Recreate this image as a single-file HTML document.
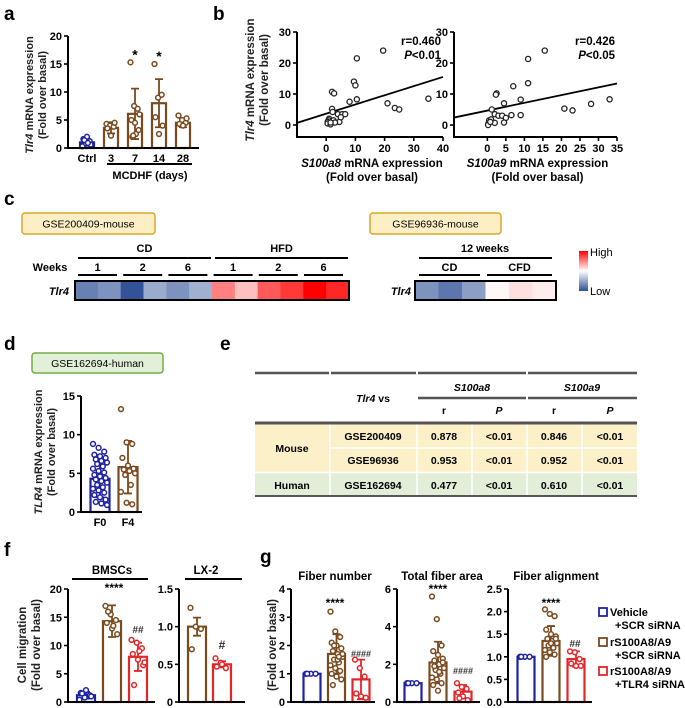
<!DOCTYPE html>
<html><head><meta charset="utf-8">
<style>
html,body{margin:0;padding:0;background:#fff;}
svg{display:block;font-family:"Liberation Sans",Arial,sans-serif;font-weight:bold;}
</style></head>
<body>
<svg id="fig" width="685" height="708" viewBox="0 0 685 708" xmlns="http://www.w3.org/2000/svg">
<g font-size="19" fill="#000">
<text x="4" y="20">a</text>
<text x="213" y="20">b</text>
<text x="4" y="205">c</text>
<text x="4" y="350">d</text>
<text x="220" y="350">e</text>
<text x="4" y="556">f</text>
<text x="260" y="563">g</text>
</g>
<g id="root"></g>
</svg>
<script>
// ---------- DATA ----------
const aCats=['Ctrl','3','7','14','28'];
const aMeans=[1,3.6,6.1,8,4.5];
const aSD=[0.6,1.0,4.5,4.3,0.8];
const aPts=[[0.3,0.8,1.2,1.6,2,0.6,1.4,0.9],[4.3,4,3.8,3.5,2.2,4.5],[15.3,7.5,7,5,4.5,3.2,2,2.5,6,2.2],[15,9,9.5,5.5,2.5,4],[5.8,5,4.5,4.3,4,5.3]];
const aTicks=[0,5,10,15,20];

const b1X=[19.5,10.5,9.5,10,2,2.7,10.5,8,21,23.5,25,35,2,2.2,4,5.5,6.5,1,0.8,0.5,0.5,1.5,4.5,5,2.5,3,1.5];
const b1Y=[24,21.5,14,12.8,10.7,10.2,8.3,7.5,7,5.5,5,8.5,5.2,4.2,3.5,3.5,3.5,2,1.5,1,0.5,0.2,1,2.5,1.5,0.8,0.8];
const b2X=[15.5,11,11,7,2.5,2.3,9,4.5,20.8,23,28,33,1.2,2,3,4,6.5,9,5,2,4.5,0.5,0.3,0.2,1,0.8];
const b2Y=[24,21.3,13.5,12.5,10.2,9.8,8.2,7,5.3,4.7,6.8,8.3,5,3.5,3,3,3.2,3.2,2.3,0.7,0.8,1.5,0.5,0,1.8,1];
const b1Fit=[[-10,0.7],[40,15.5]];
const b2Fit=[[-9,2.4],[35,13.4]];
const b1XTicks=[0,10,20,30,40];
const b2XTicks=[0,5,10,15,20,25,30,35];
const bYTicks=[0,10,20,30];

const c1Vals=[-0.72,-0.62,-0.98,-0.48,-0.62,-0.45,0.5,0.25,0.65,0.78,1,0.85];
const c2Vals=[-0.62,-0.78,-0.55,0.03,0.12,0.07];
const c1Weeks=['1','2','6','1','2','6'];

const dCats=['F0','F4'];
const dMeans=[4.3,5.8];
const dSD=[2.4,3.4];
const dPts=[[8.8,8.3,7.8,7.4,7.2,7,6.8,6.6,6.4,6.2,5.9,5.6,5.3,5.1,4.8,4.6,4.4,4.2,4,3.8,3.5,3.2,3,2.8,2.5,2.2,1.9,1.6,1.3,1.1,0.9],[13.3,9,8.8,7,6,5.6,5.5,5.3,5,4.8,3.5,2.6,1.2,1]];
const dTicks=[0,5,10,15];

const eRows=[['GSE200409','0.878','<0.01','0.846','<0.01'],['GSE96936','0.953','<0.01','0.952','<0.01'],['GSE162694','0.477','<0.01','0.610','<0.01']];

const fBMeans=[1.2,14.3,8];
const fBSD=[0.6,2.8,2.5];
const fBPts=[[0.4,0.8,1.2,1.6,2.1,1,1.5],[17,15.5,14.5,14,13,12,16,13.5],[11,10.5,9.5,8.5,7.5,6.5,3,9,7]];
const fBTicks=[0,5,10,15,20];
const fLMeans=[1.0,0.5];
const fLSD=[0.12,0.04];
const fLPts=[[1.25,1.0,0.97,0.7],[0.58,0.52,0.45,0.47,0.5]];
const fLTicks=[0,0.5,1.0,1.5];
const fLTickLabels=['0','0.5','1.0','1.5'];

const g1Means=[1,1.7,0.8];
const g1SD=[0,0.7,0.7];
const g1Pts=[[1,1,1,1],[3.2,2.5,2.3,2.1,2,1.9,1.8,1.7,1.6,1.5,1.4,1.3,1.2,1.1,1,0.9,0.8,0.6,1.5,1.7,2,1.6],[1.5,1.2,0.9,0.3,0.2,0.15]];
const g1Ticks=[0,1,2,3,4];
const g2Means=[1,2.1,0.55];
const g2SD=[0,1.1,0.35];
const g2Pts=[[1,1,1,1],[5.6,4.4,3,2.7,2.5,2.3,2.2,2,1.8,1.7,1.5,1.3,1.2,1,0.9,0.6,2.1,1.9,1.6],[1,0.8,0.7,0.5,0.3,0.1,0.2]];
const g2Ticks=[0,2,4,6];
const g3Means=[1,1.35,0.95];
const g3SD=[0,0.33,0.17];
const g3Pts=[[1,1,1,1],[2.05,1.95,1.9,1.6,1.5,1.45,1.4,1.35,1.3,1.25,1.2,1.15,1.1,1.05,1.0,1.3,1.4],[1.12,1.1,0.95,0.85,0.8,0.8]];
const g3Ticks=[0,0.5,1,1.5,2,2.5];
const g3TickLabels=['0.0','0.5','1.0','1.5','2.0','2.5'];

// ---------- HELPERS ----------
const NS='http://www.w3.org/2000/svg';
const root=document.getElementById('root');
function mk(tag,attrs,parent){const e=document.createElementNS(NS,tag);for(const k in attrs)e.setAttribute(k,attrs[k]);(parent||root).appendChild(e);return e;}
function txt(s,x,y,opt,parent){const e=mk('text',Object.assign({x:x,y:y,'font-size':11,'text-anchor':'middle'},opt||{}),parent);e.textContent=s;return e;}
function lin(sc){return v=>sc.p0+(v-sc.v0)*(sc.p1-sc.p0)/(sc.v1-sc.v0);}
const BLUE='#1f22a0',BROWN='#7a4a1f',RED='#e3262a';

function barPanel(name,c){
  const g=mk('g',{});
  
  
  const y=lin({v0:0,v1:c.vmax,p0:c.yBot,p1:c.yTop});
  const bx=i=>c.first+i*c.step;
  c.means.forEach((m,i)=>{
    const col=c.colors[i];
    const b=mk('rect',{x:bx(i)-c.w/2,y:y(m),width:c.w,height:c.yBot-y(m),fill:'#fff',stroke:col,'stroke-width':2.2},g);
    
    
    const sd=c.sds[i];
    if(sd>0){
      const eb=mk('path',{d:`M${bx(i)},${y(m-sd)}V${y(m+sd)}M${bx(i)-4},${y(m+sd)}H${bx(i)+4}M${bx(i)-4},${y(m-sd)}H${bx(i)+4}`,stroke:col,'stroke-width':1.8,fill:'none'},g);
      
      
    }
    c.pts[i].forEach((v,j)=>{
      const dx=((j*37)%11-5)/5*(c.w/2-2.5);
      const p=mk('circle',{cx:bx(i)+dx,cy:y(v),r:2.4,fill:'#fff',stroke:col,'stroke-width':1.5},g);
      
      
    });
  });
  const ax=mk('path',{d:`M${c.ax},${c.yTop}V${c.yBot}H${c.xEnd}`,stroke:'#000','stroke-width':2,fill:'none'},g);
  
  
  c.ticks.forEach((t,i)=>{
    mk('line',{x1:c.ax-4,x2:c.ax,y1:y(t),y2:y(t),stroke:'#000','stroke-width':1.6},g);
    const tl=txt(c.tickLabels?c.tickLabels[i]:String(t),c.ax-6,y(t)+4,{'text-anchor':'end','font-size':11},g);
    
    
  });
  if(c.cats){c.cats.forEach((s,i)=>{
    const cl=txt(s,bx(i),c.yBot+14,{'font-size':11},g);
    
    
  });}
  return {g,y,bx};
}

// ---------- PANEL A ----------
const pa=barPanel('panel-a-tlr4-bar-chart',{ax:68,xEnd:199,yTop:36,yBot:148,vmax:20,ticks:aTicks,first:87,step:24,w:14,means:aMeans,sds:aSD,pts:aPts,colors:[BLUE,BROWN,BROWN,BROWN,BROWN],cats:aCats});
[2,3].forEach(i=>{const s=txt('*',pa.bx(i),pa.y(Math.max(...aPts[i]))-3,{'font-size':14});});
mk('line',{x1:107,x2:192,y1:164,y2:164,stroke:'#000','stroke-width':2});
{const t=txt('MCDHF (days)',150,179,{'font-size':11});}
{const t=mk('text',{transform:'translate(33,95) rotate(-90)','text-anchor':'middle','font-size':11,fill:'#222'});t.innerHTML='<tspan font-style="italic">Tlr4</tspan> mRNA expression';
 const t2=txt('(Fold over basal)',0,0,{transform:'translate(46,95) rotate(-90)',fill:'#222'});}

// ---------- PANEL B ----------
function scatter(name,c){
  const g=mk('g',{});
  
  
  const x=lin({v0:c.xmin,v1:c.xmax,p0:c.left,p1:c.right});
  const y=lin({v0:0,v1:30,p0:125,p1:32});
  const fl=mk('line',{x1:x(c.fit[0][0]),y1:y(c.fit[0][1]),x2:x(c.fit[1][0]),y2:y(c.fit[1][1]),stroke:'#000','stroke-width':1.8},g);
  
  
  c.xs.forEach((v,i)=>{
    const p=mk('circle',{cx:x(v),cy:y(c.ys[i]),r:2.6,fill:'#fff',stroke:'#222','stroke-width':1.3},g);
    
    
  });
  const ax=mk('path',{d:`M${c.left},32V137H${c.right}`,stroke:'#000','stroke-width':2,fill:'none'},g);
  
  
  bYTicks.forEach(t=>{mk('line',{x1:c.left-4,x2:c.left,y1:y(t),y2:y(t),stroke:'#000','stroke-width':1.6},g);
    const tl=txt(String(t),c.left-6,y(t)+4,{'text-anchor':'end'},g);});
  c.xticks.forEach(t=>{mk('line',{x1:x(t),x2:x(t),y1:137,y2:141,stroke:'#000','stroke-width':1.6},g);
    const tl=txt(String(t),x(t),152,{},g);});
  const r=txt(c.r,c.right-2,45,{'text-anchor':'end','font-size':11.5},g);
  const p=mk('text',{x:c.right-2,y:59,'text-anchor':'end','font-size':11.5},g);p.innerHTML='<tspan font-style="italic">P</tspan>'+c.p;
  const xt=mk('text',{x:(c.left+c.right)/2+2,y:167,'text-anchor':'middle','font-size':11.5},g);xt.innerHTML='<tspan font-style="italic">'+c.gene+'</tspan> mRNA expression';
  const xt2=txt('(Fold over basal)',(c.left+c.right)/2+2,181,{'font-size':11.5},g);
}
scatter('panel-b-s100a8-scatter',{xmin:-10,xmax:40,left:297,right:443,xs:b1X,ys:b1Y,fit:b1Fit,xticks:b1XTicks,r:'r=0.460',p:'<0.01',gene:'S100a8'});
scatter('panel-b-s100a9-scatter',{xmin:-9,xmax:35,left:454,right:617,xs:b2X,ys:b2Y,fit:b2Fit,xticks:b2XTicks,r:'r=0.426',p:'<0.05',gene:'S100a9'});
{const t=mk('text',{transform:'translate(254,80) rotate(-90)','text-anchor':'middle','font-size':11.5,fill:'#222'});t.innerHTML='<tspan font-style="italic">Tlr4</tspan> mRNA expression';
 const t2=txt('(Fold over basal)',0,0,{transform:'translate(268,80) rotate(-90)','font-size':11.5,fill:'#222'});}

// ---------- PANEL C ----------
function cmap(v){const b=[47,79,150],w=[255,255,255],r=[255,0,0];const t=Math.abs(v),e=v<0?b:r;return 'rgb('+w.map((c,i)=>Math.round(c+(e[i]-c)*t)).join(',')+')';}
function tagBox(name,x,y,w,h,label,fill,stroke){const r=mk('rect',{x:x,y:y,width:w,height:h,rx:3,fill:fill,stroke:stroke,'stroke-width':1.5});
  const t=txt(label,x+w/2,y+h/2+4,{'font-size':10.5,'font-weight':'normal'});}
tagBox('gse200409-mouse-tag',22,213,133,21,'GSE200409-mouse','#fcefc6','#d9a928');
tagBox('gse96936-mouse-tag',370,213,131,21,'GSE96936-mouse','#fcefc6','#d9a928');
function heat(name,vals,x0,x1){const g=mk('g',{});
  const cw=(x1-x0)/vals.length;vals.forEach((v,i)=>{const c=mk('rect',{x:x0+i*cw,y:281,width:cw+0.3,height:19,fill:cmap(v)},g);});
  mk('rect',{x:x0,y:281,width:x1-x0,height:19,fill:'none',stroke:'#000','stroke-width':2},g);}
heat('heatmap-gse200409',c1Vals,75,349);
heat('heatmap-gse96936',c2Vals,415,556);
[[78,211,'CD'],[215,348,'HFD']].forEach(a=>{mk('line',{x1:a[0],x2:a[1],y1:258,y2:258,stroke:'#000','stroke-width':2});const t=txt(a[2],(a[0]+a[1])/2,252,{});});
c1Weeks.forEach((w,i)=>{const x0=78+i*45.2;mk('line',{x1:x0,x2:x0+39,y1:275,y2:275,stroke:'#000','stroke-width':2});const t=txt(w,x0+19.5,271,{});});
{const t=txt('Weeks',50,271,{});}
{const t=txt('Tlr4',69,295,{'text-anchor':'end','font-style':'italic'});}
{const t=txt('Tlr4',411,295,{'text-anchor':'end','font-style':'italic'});}
mk('line',{x1:419,x2:552,y1:258,y2:258,stroke:'#000','stroke-width':2});
{const t=txt('12 weeks',485,252,{});}
[[419,480,'CD'],[487,552,'CFD']].forEach(a=>{mk('line',{x1:a[0],x2:a[1],y1:275,y2:275,stroke:'#000','stroke-width':2});const t=txt(a[2],(a[0]+a[1])/2,271,{});});
{const d=mk('defs',{});d.innerHTML='<linearGradient id="cb" x1="0" y1="0" x2="0" y2="1"><stop offset="0" stop-color="#ff0000"/><stop offset="0.5" stop-color="#ffffff"/><stop offset="1" stop-color="#2f4f96"/></linearGradient>';
 const r=mk('rect',{x:579,y:251,width:9,height:40,fill:'url(#cb)'});
 const h=txt('High',590,256,{'text-anchor':'start','font-weight':'normal'});
 const l=txt('Low',590,295,{'text-anchor':'start','font-weight':'normal'});}

// ---------- PANEL D ----------
tagBox('gse162694-human-tag',32,353,131,20,'GSE162694-human','#e2efd9','#70ad47');
barPanel('panel-d-tlr4-human-bar-chart',{ax:81,xEnd:142,yTop:396,yBot:512,vmax:15,ticks:dTicks,first:100,step:28,w:19,means:dMeans,sds:dSD,pts:dPts,colors:[BLUE,BROWN],cats:dCats});
{const t=mk('text',{transform:'translate(42,452) rotate(-90)','text-anchor':'middle','font-size':11,fill:'#222'});t.innerHTML='<tspan font-style="italic">TLR4</tspan> mRNA expression';
 const t2=txt('(Fold over basal)',0,0,{transform:'translate(55,452) rotate(-90)',fill:'#222'});}

// ---------- PANEL E (table) ----------
{const g=mk('g',{'font-size':10.5});
 mk('rect',{x:255,y:424,width:382,height:48,fill:'#fcf0c9'},g);
 mk('rect',{x:255,y:473,width:382,height:23,fill:'#e3eed8'},g);
 [330,417,472,527,582].forEach(x=>mk('line',{x1:x,x2:x,y1:424,y2:496,stroke:'#fff','stroke-width':1.5},g));
 mk('line',{x1:330,x2:637,y1:448,y2:448,stroke:'#fff','stroke-width':1.5},g);
 mk('line',{x1:255,x2:637,y1:472.5,y2:472.5,stroke:'#fff','stroke-width':1.5},g);
 [[255,329],[331,416],[418,526],[528,637]].forEach(s=>mk('line',{x1:s[0],x2:s[1],y1:373,y2:373,stroke:'#555','stroke-width':2.5},g));
 [[418,526],[528,637]].forEach(s=>mk('line',{x1:s[0],x2:s[1],y1:398,y2:398,stroke:'#555','stroke-width':2.5},g));
 mk('line',{x1:255,x2:637,y1:423,y2:423,stroke:'#555','stroke-width':3},g);
 mk('line',{x1:255,x2:637,y1:496,y2:496,stroke:'#555','stroke-width':2},g);
 const h=mk('text',{x:373,y:402,'text-anchor':'middle'},g);h.innerHTML='<tspan font-style="italic">Tlr4</tspan> vs';
 [['S100a8',472],['S100a9',582]].forEach(a=>{const t=txt(a[0],a[1],391,{'font-style':'italic','font-size':10.5},g);});
 [[444,'r',''],[499,'P','italic'],[554,'r',''],[610,'P','italic']].forEach(a=>{const t=txt(a[1],a[0],414,{'font-style':a[2]||'normal','font-size':10.5},g);});
 const m=txt('Mouse',292,452,{'font-size':10.5},g);
 const hu=txt('Human',292,489,{'font-size':10.5},g);
 const cx=[373,444,499,554,610];const ry=[440,464,489];
 eRows.forEach((r,i)=>r.forEach((v,j)=>{const t=txt(v,cx[j],ry[i],{'font-size':10.5},g);}));
}

// ---------- PANEL F ----------
const pfb=barPanel('panel-f-bmscs-bar-chart',{ax:68,xEnd:155,yTop:589,yBot:702,vmax:20,ticks:fBTicks,first:86,step:26,w:18,means:fBMeans,sds:fBSD,pts:fBPts,colors:[BLUE,BROWN,RED]});
const pfl=barPanel('panel-f-lx2-bar-chart',{ax:179,xEnd:245,yTop:589,yBot:702,vmax:1.5,ticks:fLTicks,tickLabels:fLTickLabels,first:197,step:25,w:18,means:fLMeans,sds:fLSD,pts:fLPts,colors:[BROWN,RED]});
[[112,72,148,'BMSCs'],[206,185,242,'LX-2']].forEach(a=>{mk('line',{x1:a[1],x2:a[2],y1:579,y2:579,stroke:'#000','stroke-width':2});const t=txt(a[3],a[0],574,{'font-size':11.5});});
function mark(s,x,y,fs,col){const t=txt(s,x,y,{'font-size':fs||11,fill:col||'#000'});}
mark('****',114,592,12);mark('##',138,633,10,'#333');mark('#',222,649,12,'#333');
{const t=txt('Cell migration',0,0,{transform:'translate(26,645) rotate(-90)','font-size':11.5,fill:'#222'});
 const t2=txt('(Fold over basal)',0,0,{transform:'translate(40,645) rotate(-90)','font-size':11.5,fill:'#222'});}

// ---------- PANEL G ----------
barPanel('panel-g-fiber-number',{ax:291,xEnd:375,yTop:589,yBot:702,vmax:4,ticks:g1Ticks,first:312,step:24.5,w:17,means:g1Means,sds:g1SD,pts:g1Pts,colors:[BLUE,BROWN,RED]});
barPanel('panel-g-total-fiber-area',{ax:397,xEnd:480,yTop:589,yBot:702,vmax:6,ticks:g2Ticks,first:413,step:25,w:17,means:g2Means,sds:g2SD,pts:g2Pts,colors:[BLUE,BROWN,RED]});
barPanel('panel-g-fiber-alignment',{ax:508,xEnd:592,yTop:589,yBot:702,vmax:2.5,ticks:g3Ticks,tickLabels:g3TickLabels,first:526,step:25,w:17,means:g3Means,sds:g3SD,pts:g3Pts,colors:[BLUE,BROWN,RED]});
[['Fiber number',335],['Total fiber area',442],['Fiber alignment',556]].forEach(a=>{const t=txt(a[0],a[1],580,{'font-size':11.5});});
mark('****',335,607,12);mark('####',361,657,9,'#333');
mark('****',438,593,12);mark('####',463,674,9,'#333');
mark('****',551,607,12);mark('##',575,647,10,'#333');
{const t2=txt('(Fold over basal)',0,0,{transform:'translate(276,645) rotate(-90)','font-size':11.5,fill:'#222'});}
[[BLUE,'Vehicle','+SCR siRNA',613],[BROWN,'rS100A8/A9','+SCR siRNA',643],[RED,'rS100A8/A9','+TLR4 siRNA',672]].forEach(a=>{
  const g=mk('g',{});
  mk('rect',{x:599,y:a[3]-5,width:8,height:8,fill:'#fff',stroke:a[0],'stroke-width':1.8},g);
  txt(a[1],610,a[3]+3,{'text-anchor':'start','font-size':11},g);
  txt(a[2],615,a[3]+16,{'text-anchor':'start','font-size':11},g);
});
</script>
</body></html>
